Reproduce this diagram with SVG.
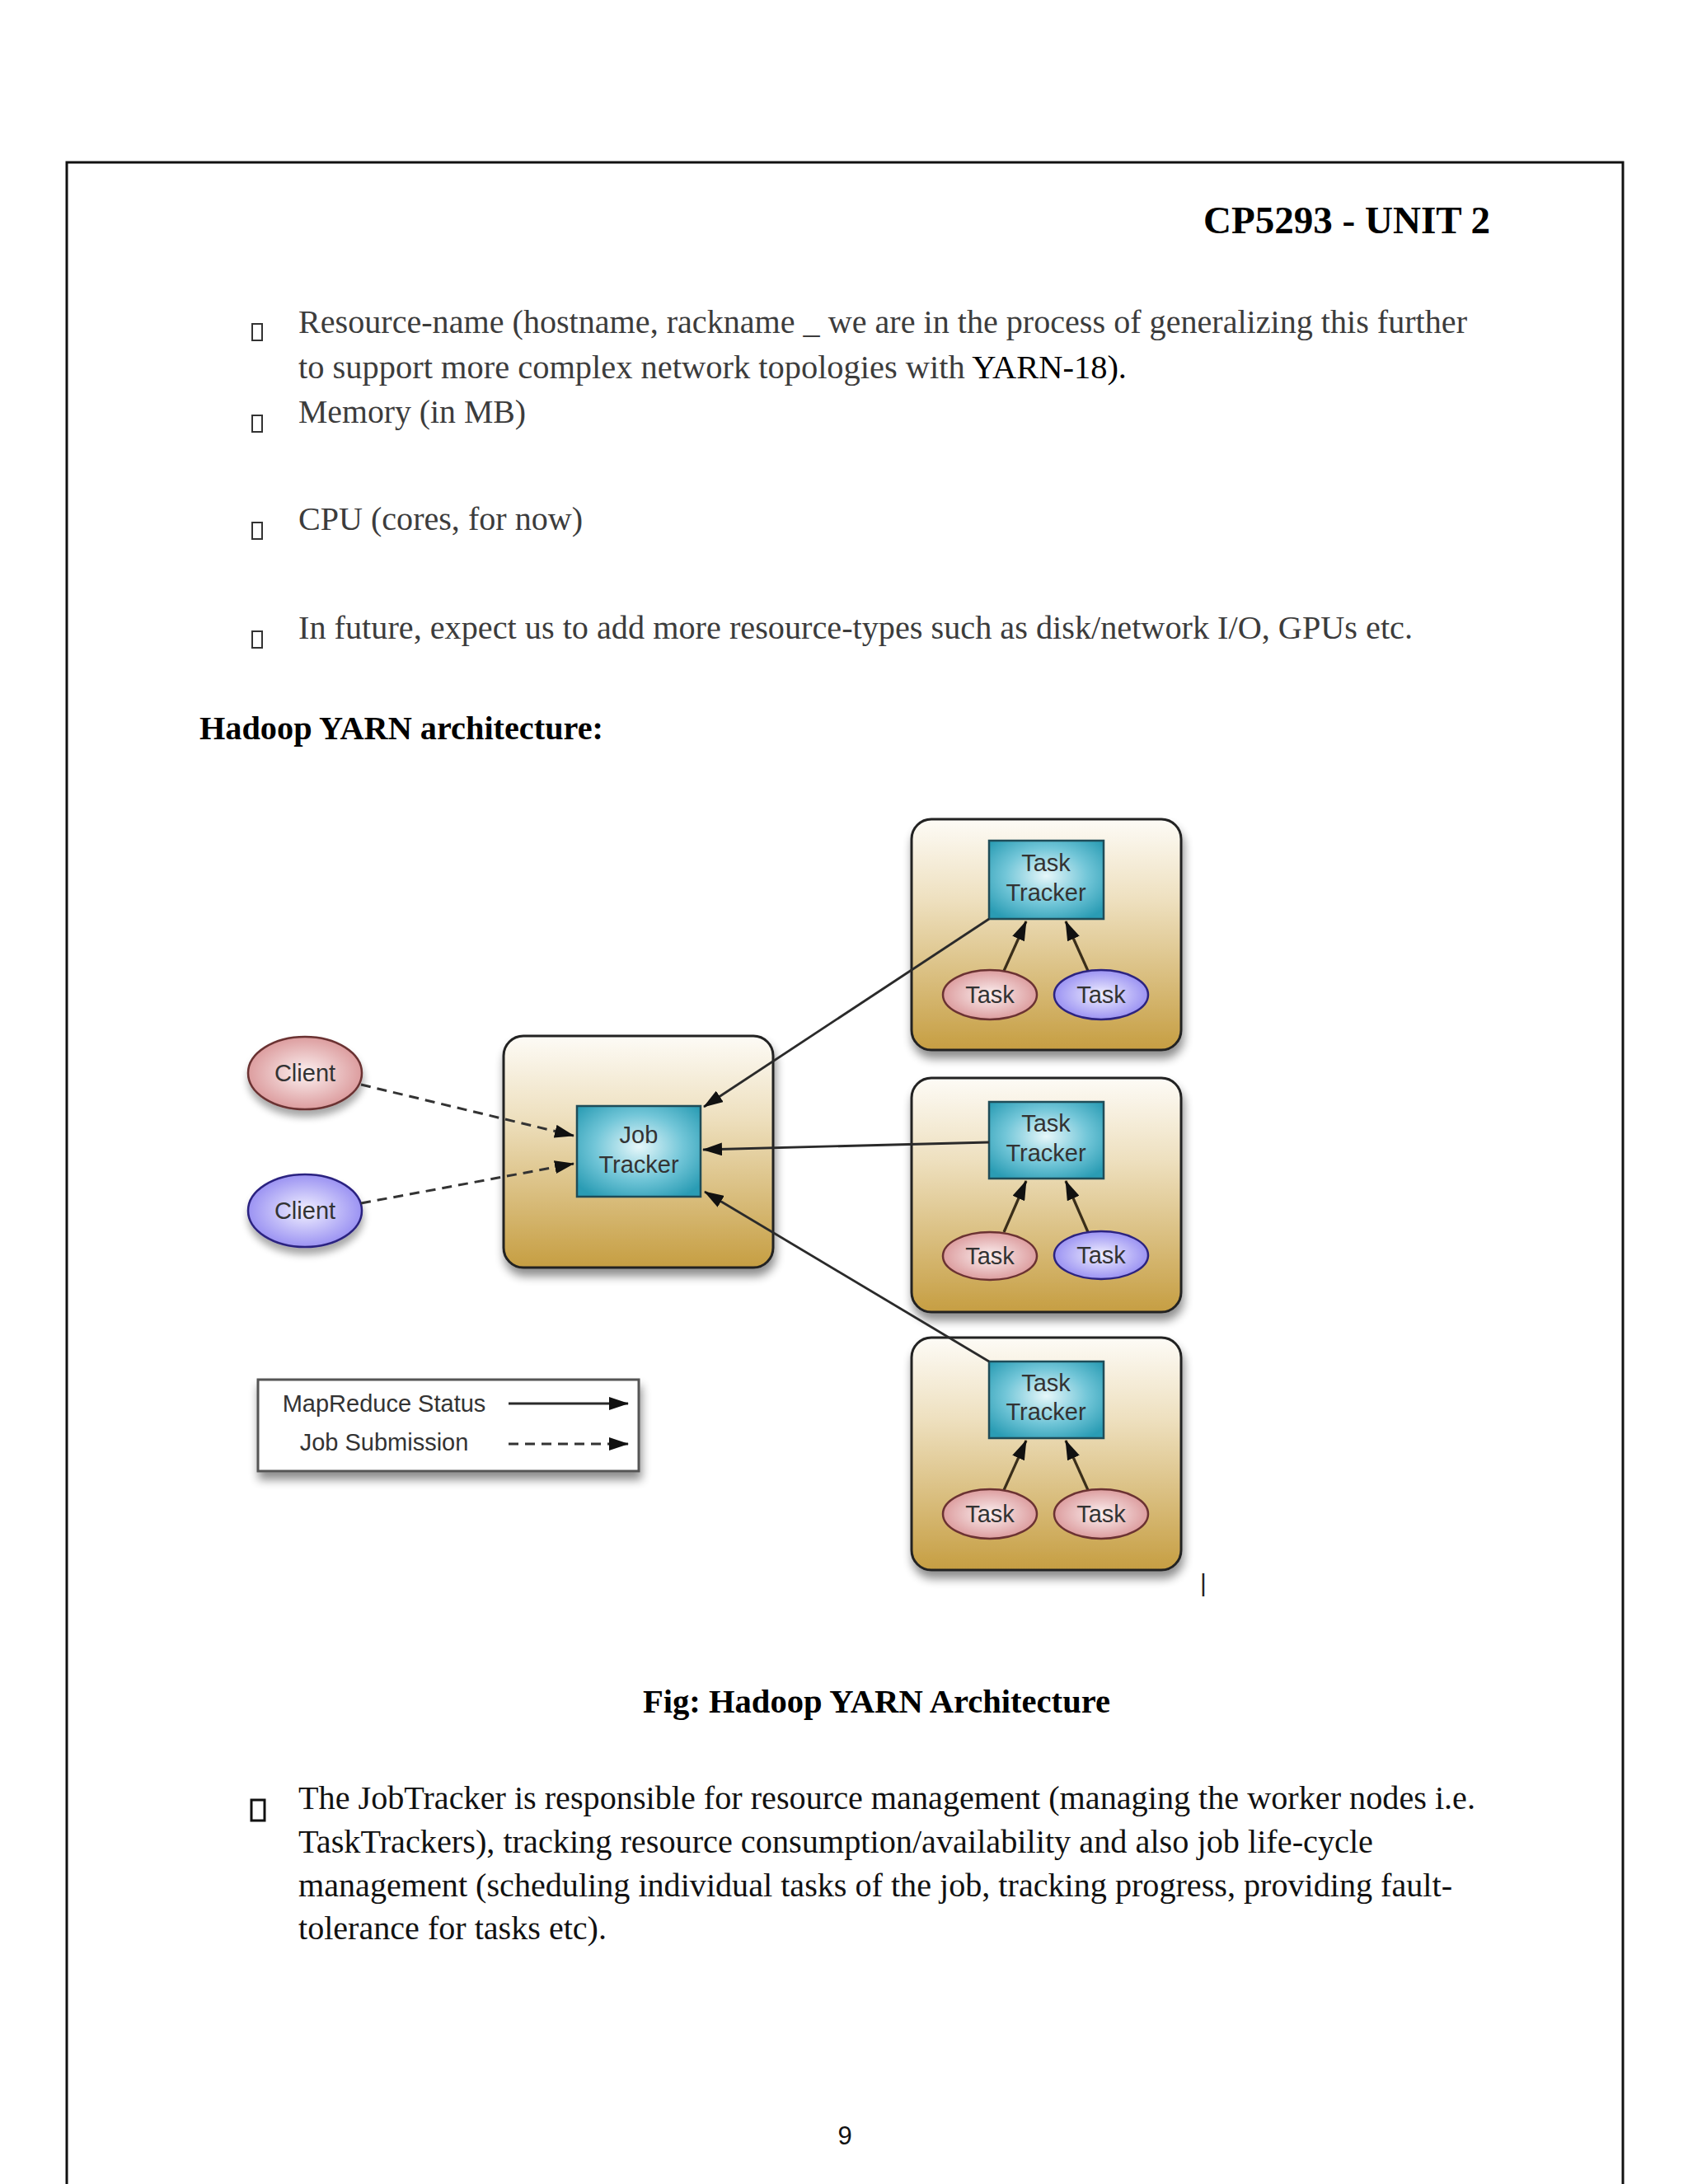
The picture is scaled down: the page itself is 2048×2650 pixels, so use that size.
<svg xmlns="http://www.w3.org/2000/svg" width="2048" height="2650" viewBox="0 0 2048 2650">
<style>
.body{font-family:"Liberation Serif","Times New Roman",serif;font-size:39px;fill:#3c3c3c}
.dark{fill:#111}
.bold{font-family:"Liberation Serif","Times New Roman",serif;font-weight:bold;fill:#000}
.bul{fill:none;stroke:#333;stroke-width:2}
.lbl{font-family:"Liberation Sans",Arial,sans-serif;font-size:29px;fill:#333;text-anchor:middle}
.cont{fill:url(#contGrad);stroke:#222;stroke-width:3;filter:url(#shadow)}
.tt{fill:url(#ttGrad);stroke:#1f4c58;stroke-width:2.5}
.pink{fill:url(#pinkGrad);stroke:#6b3232;stroke-width:2.5}
.purple{fill:url(#purpleGrad);stroke:#2c2380;stroke-width:2.5}
.solid{fill:none;stroke:#2a2a2a;stroke-width:2.8;marker-end:url(#arr)}
.tarr{fill:none;stroke:#3a2e1a;stroke-width:3.2;marker-end:url(#arr)}
.dash{fill:none;stroke:#333;stroke-width:3;stroke-dasharray:12 8;marker-end:url(#arr)}
</style>
<defs>
<linearGradient id="contGrad" x1="0" y1="0" x2="0" y2="1">
<stop offset="0" stop-color="#fdfbf6"/>
<stop offset="0.35" stop-color="#eee0bf"/>
<stop offset="1" stop-color="#c69e42"/>
</linearGradient>
<radialGradient id="ttGrad" cx="0.5" cy="0.45" r="0.65">
<stop offset="0" stop-color="#e6f7fa"/>
<stop offset="0.55" stop-color="#72c6d8"/>
<stop offset="1" stop-color="#2a9cb4"/>
</radialGradient>
<radialGradient id="pinkGrad" cx="0.5" cy="0.5" r="0.6">
<stop offset="0" stop-color="#fcf1f1"/>
<stop offset="1" stop-color="#d68c8e"/>
</radialGradient>
<radialGradient id="purpleGrad" cx="0.5" cy="0.5" r="0.6">
<stop offset="0" stop-color="#f1f0ff"/>
<stop offset="1" stop-color="#8a80f0"/>
</radialGradient>
<filter id="shadow" x="-20%" y="-20%" width="140%" height="150%">
<feGaussianBlur in="SourceAlpha" stdDeviation="6"/>
<feOffset dx="2" dy="9" result="b"/>
<feComponentTransfer><feFuncA type="linear" slope="0.45"/></feComponentTransfer>
<feMerge><feMergeNode/><feMergeNode in="SourceGraphic"/></feMerge>
</filter>
<filter id="eshadow" x="-30%" y="-30%" width="160%" height="180%">
<feGaussianBlur in="SourceAlpha" stdDeviation="5"/>
<feOffset dx="1" dy="8" result="b"/>
<feComponentTransfer><feFuncA type="linear" slope="0.35"/></feComponentTransfer>
<feMerge><feMergeNode/><feMergeNode in="SourceGraphic"/></feMerge>
</filter>
<marker id="arr" viewBox="0 0 24 16" refX="23" refY="8" markerWidth="24" markerHeight="16" markerUnits="userSpaceOnUse" orient="auto">
<path d="M0,0 L24,8 L0,16 z" fill="#111"/>
</marker>
</defs>

<rect width="2048" height="2650" fill="#ffffff"/>

<!-- page border -->
<rect id="page-border" x="81" y="197" width="1888" height="2480" fill="none" stroke="#111" stroke-width="3"/>

<!-- header -->
<text id="header" class="bold" x="1808" y="283" font-size="46" text-anchor="end" textLength="348" lengthAdjust="spacingAndGlyphs">CP5293 - UNIT 2</text>

<!-- bullet list -->
<g id="bullets-top">
<rect class="bul" x="306" y="393" width="12" height="20"/>
<text class="body" x="362" y="404" textLength="1418" lengthAdjust="spacingAndGlyphs">Resource-name (hostname, rackname _ we are in the process of generalizing this further</text>
<text class="body" x="362" y="459" textLength="1005" lengthAdjust="spacingAndGlyphs">to support more complex network topologies with <tspan fill="#000">YARN-18).</tspan></text>
<rect class="bul" x="306" y="504" width="12" height="20"/>
<text class="body" x="362" y="513" textLength="276" lengthAdjust="spacingAndGlyphs">Memory (in MB)</text>
<rect class="bul" x="306" y="634" width="12" height="20"/>
<text class="body" x="362" y="643" textLength="345" lengthAdjust="spacingAndGlyphs">CPU (cores, for now)</text>
<rect class="bul" x="306" y="766" width="12" height="20"/>
<text class="body" x="362" y="775" textLength="1352" lengthAdjust="spacingAndGlyphs">In future, expect us to add more resource-types such as disk/network I/O, GPUs etc.</text>
</g>

<text id="section-title" class="bold" x="242" y="897" font-size="40" textLength="490" lengthAdjust="spacingAndGlyphs">Hadoop YARN architecture:</text>

<!-- Job Tracker -->
<g id="jobtracker-node">
<rect class="cont" x="611" y="1257" width="327" height="281" rx="24"/>
<rect class="tt" x="700" y="1342" width="150" height="110"/>
<text class="lbl" x="775" y="1387">Job</text>
<text class="lbl" x="775" y="1423">Tracker</text>
</g>

<!-- Clients -->
<g id="client-1">
<ellipse class="pink" cx="370" cy="1302" rx="69" ry="44" filter="url(#eshadow)"/>
<text class="lbl" x="370" y="1312">Client</text>
</g>
<g id="client-2">
<ellipse class="purple" cx="370" cy="1469" rx="69" ry="44" filter="url(#eshadow)"/>
<text class="lbl" x="370" y="1479">Client</text>
</g>

<!-- Task tracker 1 -->
<g id="tasktracker-1">
<rect class="cont" x="1106" y="994" width="327" height="280" rx="24"/>
<rect class="tt" x="1200" y="1020" width="139" height="95"/>
<text class="lbl" x="1269" y="1057">Task</text>
<text class="lbl" x="1269" y="1093">Tracker</text>
<path class="tarr" d="M1218,1178 L1245,1118"/>
<path class="tarr" d="M1320,1178 L1293,1118"/>
<ellipse class="pink" cx="1201" cy="1207" rx="57" ry="30"/>
<text class="lbl" x="1201" y="1217">Task</text>
<ellipse class="purple" cx="1336" cy="1207" rx="57" ry="30"/>
<text class="lbl" x="1336" y="1217">Task</text>
</g>

<!-- Task tracker 2 -->
<g id="tasktracker-2">
<rect class="cont" x="1106" y="1308" width="327" height="284" rx="24"/>
<rect class="tt" x="1200" y="1337" width="139" height="93"/>
<text class="lbl" x="1269" y="1373">Task</text>
<text class="lbl" x="1269" y="1409">Tracker</text>
<path class="tarr" d="M1218,1495 L1245,1433"/>
<path class="tarr" d="M1320,1495 L1293,1433"/>
<ellipse class="pink" cx="1201" cy="1524" rx="57" ry="29"/>
<text class="lbl" x="1201" y="1534">Task</text>
<ellipse class="purple" cx="1336" cy="1523" rx="57" ry="29"/>
<text class="lbl" x="1336" y="1533">Task</text>
</g>

<!-- Task tracker 3 -->
<g id="tasktracker-3">
<rect class="cont" x="1106" y="1623" width="327" height="282" rx="24"/>
<rect class="tt" x="1200" y="1652" width="139" height="93"/>
<text class="lbl" x="1269" y="1688">Task</text>
<text class="lbl" x="1269" y="1723">Tracker</text>
<path class="tarr" d="M1218,1808 L1245,1748"/>
<path class="tarr" d="M1320,1808 L1293,1748"/>
<ellipse class="pink" cx="1201" cy="1837" rx="57" ry="30"/>
<text class="lbl" x="1201" y="1847">Task</text>
<ellipse class="pink" cx="1336" cy="1837" rx="57" ry="30"/>
<text class="lbl" x="1336" y="1847">Task</text>
</g>

<!-- connectors (drawn over containers) -->
<g id="connectors">
<path class="dash" d="M438,1316 L696,1378"/>
<path class="dash" d="M438,1460 L696,1412"/>
<path class="solid" d="M1200,1115 L854,1343"/>
<path class="solid" d="M1200,1386 L853,1395"/>
<path class="solid" d="M1200,1652 L855,1446"/>
</g>

<!-- legend -->
<g id="legend">
<rect x="313" y="1674" width="462" height="111" fill="#fff" stroke="#555" stroke-width="3" filter="url(#shadow)"/>
<text class="lbl" x="466" y="1713" font-size="29" fill="#555">MapReduce Status</text>
<text class="lbl" x="466" y="1760" font-size="29" fill="#555">Job Submission</text>
<path class="solid" d="M617,1703 L762,1703"/>
<path class="dash" d="M617,1752 L762,1752" stroke-dasharray="10 8"/>
</g>

<text id="stray-bar" x="1460" y="1931" font-family="Liberation Sans, Arial, sans-serif" font-size="30" fill="#222" text-anchor="middle">|</text>

<text id="caption" class="bold" x="780" y="2078" font-size="40" textLength="567" lengthAdjust="spacingAndGlyphs">Fig: Hadoop YARN Architecture</text>

<g id="bottom-paragraph">
<rect x="305" y="2184" width="16" height="25" fill="none" stroke="#111" stroke-width="3"/>
<text class="body dark" x="362" y="2195" textLength="1428" lengthAdjust="spacingAndGlyphs">The JobTracker is responsible for resource management (managing the worker nodes i.e.</text>
<text class="body dark" x="362" y="2248" textLength="1304" lengthAdjust="spacingAndGlyphs">TaskTrackers), tracking resource consumption/availability and also job life-cycle</text>
<text class="body dark" x="362" y="2301" textLength="1400" lengthAdjust="spacingAndGlyphs">management (scheduling individual tasks of the job, tracking progress, providing fault-</text>
<text class="body dark" x="362" y="2353" textLength="374" lengthAdjust="spacingAndGlyphs">tolerance for tasks etc).</text>
</g>

<text id="page-number" x="1025" y="2602" font-family="Liberation Sans, Arial, sans-serif" font-size="31" fill="#111" text-anchor="middle">9</text>
</svg>
